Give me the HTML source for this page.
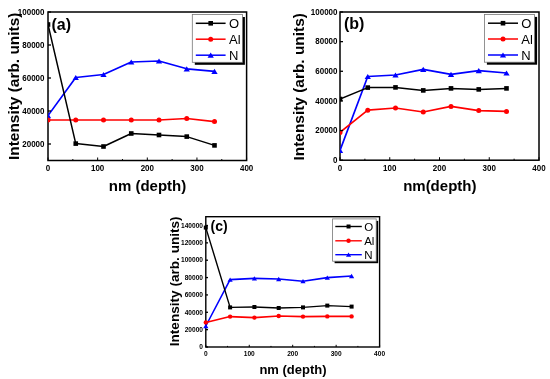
<!DOCTYPE html>
<html><head><meta charset="utf-8"><style>
html,body{margin:0;padding:0;background:#fff;width:550px;height:379px;overflow:hidden}
svg{display:block;will-change:transform}
text{font-family:"Liberation Sans", sans-serif;fill:#000}
</style></head><body>
<svg width="550" height="379" viewBox="0 0 550 379">
<rect x="48" y="12" width="198.6" height="148.5" fill="none" stroke="#000" stroke-width="1.5"/>
<clipPath id="clipa"><rect x="48" y="12" width="198.6" height="148.5"/></clipPath>
<g clip-path="url(#clipa)">
<polyline points="48,115.6 75.75,77.5 103.5,74.5 131.25,62 159,61 186.75,68.8 214.5,71.4" fill="none" stroke="#00f" stroke-width="1.6800000000000002" stroke-linejoin="round"/>
<path d="M44.85,118.18 L51.15,118.18 L48,113.02 Z" fill="#00f"/>
<path d="M72.6,80.08 L78.9,80.08 L75.75,74.92 Z" fill="#00f"/>
<path d="M100.35,77.08 L106.65,77.08 L103.5,71.92 Z" fill="#00f"/>
<path d="M128.1,64.58 L134.4,64.58 L131.25,59.42 Z" fill="#00f"/>
<path d="M155.85,63.58 L162.15,63.58 L159,58.42 Z" fill="#00f"/>
<path d="M183.6,71.38 L189.9,71.38 L186.75,66.22 Z" fill="#00f"/>
<path d="M211.35,73.98 L217.65,73.98 L214.5,68.82 Z" fill="#00f"/>
<polyline points="48,120 75.75,120 103.5,120 131.25,120 159,120 186.75,118.5 214.5,121.6" fill="none" stroke="#f00" stroke-width="1.6800000000000002" stroke-linejoin="round"/>
<circle cx="48" cy="120" r="2.5" fill="#f00"/>
<circle cx="75.75" cy="120" r="2.5" fill="#f00"/>
<circle cx="103.5" cy="120" r="2.5" fill="#f00"/>
<circle cx="131.25" cy="120" r="2.5" fill="#f00"/>
<circle cx="159" cy="120" r="2.5" fill="#f00"/>
<circle cx="186.75" cy="118.5" r="2.5" fill="#f00"/>
<circle cx="214.5" cy="121.6" r="2.5" fill="#f00"/>
<polyline points="48,24.5 75.75,143.6 103.5,146.5 131.25,133.5 159,135 186.75,136.6 214.5,145.4" fill="none" stroke="#000" stroke-width="1.5" stroke-linejoin="round"/>
<rect x="45.7" y="22.2" width="4.6" height="4.6" fill="#000"/>
<rect x="73.45" y="141.3" width="4.6" height="4.6" fill="#000"/>
<rect x="101.2" y="144.2" width="4.6" height="4.6" fill="#000"/>
<rect x="128.95" y="131.2" width="4.6" height="4.6" fill="#000"/>
<rect x="156.7" y="132.7" width="4.6" height="4.6" fill="#000"/>
<rect x="184.45" y="134.3" width="4.6" height="4.6" fill="#000"/>
<rect x="212.2" y="143.1" width="4.6" height="4.6" fill="#000"/>
</g>
<line x1="48" y1="12" x2="51" y2="12" stroke="#000" stroke-width="1.3"/>
<text transform="translate(44.5,14.72) scale(1,1.12)" text-anchor="end" font-size="8" font-weight="bold">100000</text>
<line x1="48" y1="45" x2="51" y2="45" stroke="#000" stroke-width="1.3"/>
<text transform="translate(44.5,47.72) scale(1,1.12)" text-anchor="end" font-size="8" font-weight="bold">80000</text>
<line x1="48" y1="78" x2="51" y2="78" stroke="#000" stroke-width="1.3"/>
<text transform="translate(44.5,80.72) scale(1,1.12)" text-anchor="end" font-size="8" font-weight="bold">60000</text>
<line x1="48" y1="111" x2="51" y2="111" stroke="#000" stroke-width="1.3"/>
<text transform="translate(44.5,113.72) scale(1,1.12)" text-anchor="end" font-size="8" font-weight="bold">40000</text>
<line x1="48" y1="144" x2="51" y2="144" stroke="#000" stroke-width="1.3"/>
<text transform="translate(44.5,146.72) scale(1,1.12)" text-anchor="end" font-size="8" font-weight="bold">20000</text>
<line x1="48" y1="160.5" x2="48" y2="157.5" stroke="#000" stroke-width="1"/>
<text transform="translate(48,170.5) scale(1,1.12)" text-anchor="middle" font-size="8" font-weight="bold">0</text>
<line x1="97.65" y1="160.5" x2="97.65" y2="157.5" stroke="#000" stroke-width="1"/>
<text transform="translate(97.65,170.5) scale(1,1.12)" text-anchor="middle" font-size="8" font-weight="bold">100</text>
<line x1="147.3" y1="160.5" x2="147.3" y2="157.5" stroke="#000" stroke-width="1"/>
<text transform="translate(147.3,170.5) scale(1,1.12)" text-anchor="middle" font-size="8" font-weight="bold">200</text>
<line x1="196.95" y1="160.5" x2="196.95" y2="157.5" stroke="#000" stroke-width="1"/>
<text transform="translate(196.95,170.5) scale(1,1.12)" text-anchor="middle" font-size="8" font-weight="bold">300</text>
<line x1="246.6" y1="160.5" x2="246.6" y2="157.5" stroke="#000" stroke-width="1"/>
<text transform="translate(246.6,170.5) scale(1,1.12)" text-anchor="middle" font-size="8" font-weight="bold">400</text>
<line x1="72.83" y1="160.5" x2="72.83" y2="159" stroke="#000" stroke-width="1"/>
<line x1="122.47" y1="160.5" x2="122.47" y2="159" stroke="#000" stroke-width="1"/>
<line x1="172.12" y1="160.5" x2="172.12" y2="159" stroke="#000" stroke-width="1"/>
<line x1="221.78" y1="160.5" x2="221.78" y2="159" stroke="#000" stroke-width="1"/>
<text x="51.5" y="30" font-size="16" font-weight="bold">(a)</text>
<text x="147.5" y="191" text-anchor="middle" font-size="15" font-weight="bold">nm (depth)</text>
<text transform="translate(18.6,86.3) rotate(-90)" text-anchor="middle" font-size="15.45" font-weight="bold">Intensity (arb. units)</text>
<rect x="194.8" y="17" width="50.1" height="47.8" fill="#000"/>
<rect x="192.3" y="14.5" width="50.1" height="47.8" fill="#fff" stroke="#777" stroke-width="0.8"/>
<line x1="195.8" y1="23.3" x2="225.6" y2="23.3" stroke="#000" stroke-width="1.5"/>
<rect x="208.4" y="21" width="4.6" height="4.6" fill="#000"/>
<text x="229" y="27.98" font-size="13">O</text>
<line x1="195.8" y1="39.2" x2="225.6" y2="39.2" stroke="#f00" stroke-width="1.5"/>
<circle cx="210.7" cy="39.2" r="2.5" fill="#f00"/>
<text x="229" y="43.88" font-size="13">Al</text>
<line x1="195.8" y1="55.2" x2="225.6" y2="55.2" stroke="#00f" stroke-width="1.5"/>
<path d="M207.55,57.78 L213.85,57.78 L210.7,52.62 Z" fill="#00f"/>
<text x="229" y="59.88" font-size="13">N</text>
<rect x="340" y="12" width="199" height="148.2" fill="none" stroke="#000" stroke-width="1.5"/>
<clipPath id="clipb"><rect x="340" y="12" width="199" height="148.2"/></clipPath>
<g clip-path="url(#clipb)">
<polyline points="340,150.4 367.75,76.5 395.5,75 423.25,69.4 451,74.4 478.75,70.6 506.5,73" fill="none" stroke="#00f" stroke-width="1.6800000000000002" stroke-linejoin="round"/>
<path d="M336.85,152.98 L343.15,152.98 L340,147.82 Z" fill="#00f"/>
<path d="M364.6,79.08 L370.9,79.08 L367.75,73.92 Z" fill="#00f"/>
<path d="M392.35,77.58 L398.65,77.58 L395.5,72.42 Z" fill="#00f"/>
<path d="M420.1,71.98 L426.4,71.98 L423.25,66.82 Z" fill="#00f"/>
<path d="M447.85,76.98 L454.15,76.98 L451,71.82 Z" fill="#00f"/>
<path d="M475.6,73.18 L481.9,73.18 L478.75,68.02 Z" fill="#00f"/>
<path d="M503.35,75.58 L509.65,75.58 L506.5,70.42 Z" fill="#00f"/>
<polyline points="340,132.4 367.75,110.2 395.5,108 423.25,112 451,106.4 478.75,110.6 506.5,111.4" fill="none" stroke="#f00" stroke-width="1.6800000000000002" stroke-linejoin="round"/>
<circle cx="340" cy="132.4" r="2.5" fill="#f00"/>
<circle cx="367.75" cy="110.2" r="2.5" fill="#f00"/>
<circle cx="395.5" cy="108" r="2.5" fill="#f00"/>
<circle cx="423.25" cy="112" r="2.5" fill="#f00"/>
<circle cx="451" cy="106.4" r="2.5" fill="#f00"/>
<circle cx="478.75" cy="110.6" r="2.5" fill="#f00"/>
<circle cx="506.5" cy="111.4" r="2.5" fill="#f00"/>
<polyline points="340,99 367.75,87.6 395.5,87.4 423.25,90.4 451,88.4 478.75,89.4 506.5,88.4" fill="none" stroke="#000" stroke-width="1.5" stroke-linejoin="round"/>
<rect x="337.7" y="96.7" width="4.6" height="4.6" fill="#000"/>
<rect x="365.45" y="85.3" width="4.6" height="4.6" fill="#000"/>
<rect x="393.2" y="85.1" width="4.6" height="4.6" fill="#000"/>
<rect x="420.95" y="88.1" width="4.6" height="4.6" fill="#000"/>
<rect x="448.7" y="86.1" width="4.6" height="4.6" fill="#000"/>
<rect x="476.45" y="87.1" width="4.6" height="4.6" fill="#000"/>
<rect x="504.2" y="86.1" width="4.6" height="4.6" fill="#000"/>
</g>
<line x1="340" y1="12" x2="343" y2="12" stroke="#000" stroke-width="1.3"/>
<text transform="translate(337.5,14.72) scale(1,1.12)" text-anchor="end" font-size="8" font-weight="bold">100000</text>
<line x1="340" y1="41.64" x2="343" y2="41.64" stroke="#000" stroke-width="1.3"/>
<text transform="translate(337.5,44.36) scale(1,1.12)" text-anchor="end" font-size="8" font-weight="bold">80000</text>
<line x1="340" y1="71.28" x2="343" y2="71.28" stroke="#000" stroke-width="1.3"/>
<text transform="translate(337.5,74) scale(1,1.12)" text-anchor="end" font-size="8" font-weight="bold">60000</text>
<line x1="340" y1="100.92" x2="343" y2="100.92" stroke="#000" stroke-width="1.3"/>
<text transform="translate(337.5,103.64) scale(1,1.12)" text-anchor="end" font-size="8" font-weight="bold">40000</text>
<line x1="340" y1="130.56" x2="343" y2="130.56" stroke="#000" stroke-width="1.3"/>
<text transform="translate(337.5,133.28) scale(1,1.12)" text-anchor="end" font-size="8" font-weight="bold">20000</text>
<line x1="340" y1="160.2" x2="343" y2="160.2" stroke="#000" stroke-width="1.3"/>
<text transform="translate(337.5,162.92) scale(1,1.12)" text-anchor="end" font-size="8" font-weight="bold">0</text>
<line x1="340" y1="160.2" x2="340" y2="157.2" stroke="#000" stroke-width="1"/>
<text transform="translate(340,170.5) scale(1,1.12)" text-anchor="middle" font-size="8" font-weight="bold">0</text>
<line x1="389.75" y1="160.2" x2="389.75" y2="157.2" stroke="#000" stroke-width="1"/>
<text transform="translate(389.75,170.5) scale(1,1.12)" text-anchor="middle" font-size="8" font-weight="bold">100</text>
<line x1="439.5" y1="160.2" x2="439.5" y2="157.2" stroke="#000" stroke-width="1"/>
<text transform="translate(439.5,170.5) scale(1,1.12)" text-anchor="middle" font-size="8" font-weight="bold">200</text>
<line x1="489.25" y1="160.2" x2="489.25" y2="157.2" stroke="#000" stroke-width="1"/>
<text transform="translate(489.25,170.5) scale(1,1.12)" text-anchor="middle" font-size="8" font-weight="bold">300</text>
<line x1="539" y1="160.2" x2="539" y2="157.2" stroke="#000" stroke-width="1"/>
<text transform="translate(539,170.5) scale(1,1.12)" text-anchor="middle" font-size="8" font-weight="bold">400</text>
<line x1="364.88" y1="160.2" x2="364.88" y2="158.7" stroke="#000" stroke-width="1"/>
<line x1="414.62" y1="160.2" x2="414.62" y2="158.7" stroke="#000" stroke-width="1"/>
<line x1="464.38" y1="160.2" x2="464.38" y2="158.7" stroke="#000" stroke-width="1"/>
<line x1="514.12" y1="160.2" x2="514.12" y2="158.7" stroke="#000" stroke-width="1"/>
<text x="344" y="29" font-size="16" font-weight="bold">(b)</text>
<text x="439.8" y="191" text-anchor="middle" font-size="15" font-weight="bold">nm(depth)</text>
<text transform="translate(303.6,86.8) rotate(-90)" text-anchor="middle" font-size="15.45" font-weight="bold">Intensity (arb. units)</text>
<rect x="486.9" y="16.9" width="50.2" height="47.8" fill="#000"/>
<rect x="484.4" y="14.4" width="50.2" height="47.8" fill="#fff" stroke="#777" stroke-width="0.8"/>
<line x1="488" y1="23.2" x2="518" y2="23.2" stroke="#000" stroke-width="1.5"/>
<rect x="500.7" y="20.9" width="4.6" height="4.6" fill="#000"/>
<text x="521.3" y="27.88" font-size="13">O</text>
<line x1="488" y1="39" x2="518" y2="39" stroke="#f00" stroke-width="1.5"/>
<circle cx="503" cy="39" r="2.5" fill="#f00"/>
<text x="521.3" y="43.68" font-size="13">Al</text>
<line x1="488" y1="55" x2="518" y2="55" stroke="#00f" stroke-width="1.5"/>
<path d="M499.85,57.58 L506.15,57.58 L503,52.42 Z" fill="#00f"/>
<text x="521.3" y="59.68" font-size="13">N</text>
<rect x="205.8" y="216.7" width="173.8" height="130.3" fill="none" stroke="#000" stroke-width="1.4"/>
<polyline points="205.8,326 230.1,279.6 254.4,278.4 278.7,279 303,281.2 327.3,277.6 351.6,276" fill="none" stroke="#00f" stroke-width="1.568" stroke-linejoin="round"/>
<path d="M203.2,328.13 L208.4,328.13 L205.8,323.87 Z" fill="#00f"/>
<path d="M227.5,281.73 L232.7,281.73 L230.1,277.47 Z" fill="#00f"/>
<path d="M251.8,280.53 L257,280.53 L254.4,276.27 Z" fill="#00f"/>
<path d="M276.1,281.13 L281.3,281.13 L278.7,276.87 Z" fill="#00f"/>
<path d="M300.4,283.33 L305.6,283.33 L303,279.07 Z" fill="#00f"/>
<path d="M324.7,279.73 L329.9,279.73 L327.3,275.47 Z" fill="#00f"/>
<path d="M349,278.13 L354.2,278.13 L351.6,273.87 Z" fill="#00f"/>
<polyline points="205.8,322.4 230.1,316.6 254.4,317.6 278.7,316 303,316.6 327.3,316.4 351.6,316.4" fill="none" stroke="#f00" stroke-width="1.568" stroke-linejoin="round"/>
<circle cx="205.8" cy="322.4" r="2.2" fill="#f00"/>
<circle cx="230.1" cy="316.6" r="2.2" fill="#f00"/>
<circle cx="254.4" cy="317.6" r="2.2" fill="#f00"/>
<circle cx="278.7" cy="316" r="2.2" fill="#f00"/>
<circle cx="303" cy="316.6" r="2.2" fill="#f00"/>
<circle cx="327.3" cy="316.4" r="2.2" fill="#f00"/>
<circle cx="351.6" cy="316.4" r="2.2" fill="#f00"/>
<polyline points="205.8,227.6 230.1,307.4 254.4,307 278.7,308 303,307.4 327.3,305.6 351.6,306.6" fill="none" stroke="#000" stroke-width="1.4" stroke-linejoin="round"/>
<rect x="203.8" y="225.6" width="4" height="4" fill="#000"/>
<rect x="228.1" y="305.4" width="4" height="4" fill="#000"/>
<rect x="252.4" y="305" width="4" height="4" fill="#000"/>
<rect x="276.7" y="306" width="4" height="4" fill="#000"/>
<rect x="301" y="305.4" width="4" height="4" fill="#000"/>
<rect x="325.3" y="303.6" width="4" height="4" fill="#000"/>
<rect x="349.6" y="304.6" width="4" height="4" fill="#000"/>
<line x1="205.8" y1="225.5" x2="208" y2="225.5" stroke="#000" stroke-width="1.3"/>
<text transform="translate(203,227.74) scale(1,1.12)" text-anchor="end" font-size="6.6" font-weight="bold">140000</text>
<line x1="205.8" y1="242.86" x2="208" y2="242.86" stroke="#000" stroke-width="1.3"/>
<text transform="translate(203,245.1) scale(1,1.12)" text-anchor="end" font-size="6.6" font-weight="bold">120000</text>
<line x1="205.8" y1="260.21" x2="208" y2="260.21" stroke="#000" stroke-width="1.3"/>
<text transform="translate(203,262.46) scale(1,1.12)" text-anchor="end" font-size="6.6" font-weight="bold">100000</text>
<line x1="205.8" y1="277.57" x2="208" y2="277.57" stroke="#000" stroke-width="1.3"/>
<text transform="translate(203,279.82) scale(1,1.12)" text-anchor="end" font-size="6.6" font-weight="bold">80000</text>
<line x1="205.8" y1="294.93" x2="208" y2="294.93" stroke="#000" stroke-width="1.3"/>
<text transform="translate(203,297.17) scale(1,1.12)" text-anchor="end" font-size="6.6" font-weight="bold">60000</text>
<line x1="205.8" y1="312.29" x2="208" y2="312.29" stroke="#000" stroke-width="1.3"/>
<text transform="translate(203,314.53) scale(1,1.12)" text-anchor="end" font-size="6.6" font-weight="bold">40000</text>
<line x1="205.8" y1="329.64" x2="208" y2="329.64" stroke="#000" stroke-width="1.3"/>
<text transform="translate(203,331.89) scale(1,1.12)" text-anchor="end" font-size="6.6" font-weight="bold">20000</text>
<line x1="205.8" y1="347" x2="208" y2="347" stroke="#000" stroke-width="1.3"/>
<text transform="translate(203,349.24) scale(1,1.12)" text-anchor="end" font-size="6.6" font-weight="bold">0</text>
<line x1="205.8" y1="347" x2="205.8" y2="344.8" stroke="#000" stroke-width="1"/>
<text transform="translate(205.8,356) scale(1,1.12)" text-anchor="middle" font-size="6.6" font-weight="bold">0</text>
<line x1="249.25" y1="347" x2="249.25" y2="344.8" stroke="#000" stroke-width="1"/>
<text transform="translate(249.25,356) scale(1,1.12)" text-anchor="middle" font-size="6.6" font-weight="bold">100</text>
<line x1="292.7" y1="347" x2="292.7" y2="344.8" stroke="#000" stroke-width="1"/>
<text transform="translate(292.7,356) scale(1,1.12)" text-anchor="middle" font-size="6.6" font-weight="bold">200</text>
<line x1="336.15" y1="347" x2="336.15" y2="344.8" stroke="#000" stroke-width="1"/>
<text transform="translate(336.15,356) scale(1,1.12)" text-anchor="middle" font-size="6.6" font-weight="bold">300</text>
<line x1="379.6" y1="347" x2="379.6" y2="344.8" stroke="#000" stroke-width="1"/>
<text transform="translate(379.6,356) scale(1,1.12)" text-anchor="middle" font-size="6.6" font-weight="bold">400</text>
<line x1="227.53" y1="347" x2="227.53" y2="345.9" stroke="#000" stroke-width="1"/>
<line x1="270.98" y1="347" x2="270.98" y2="345.9" stroke="#000" stroke-width="1"/>
<line x1="314.43" y1="347" x2="314.43" y2="345.9" stroke="#000" stroke-width="1"/>
<line x1="357.88" y1="347" x2="357.88" y2="345.9" stroke="#000" stroke-width="1"/>
<text x="210.5" y="231.3" font-size="14" font-weight="bold">(c)</text>
<text x="293" y="374" text-anchor="middle" font-size="13" font-weight="bold">nm (depth)</text>
<text transform="translate(178.7,281.3) rotate(-90)" text-anchor="middle" font-size="13.6" font-weight="bold">Intensity (arb. units)</text>
<rect x="334.6" y="220.9" width="43.6" height="42.3" fill="#000"/>
<rect x="332.6" y="218.9" width="43.6" height="42.3" fill="#fff" stroke="#777" stroke-width="0.8"/>
<line x1="335.3" y1="226.5" x2="361.8" y2="226.5" stroke="#000" stroke-width="1.4"/>
<rect x="346.55" y="224.5" width="4" height="4" fill="#000"/>
<text x="364.2" y="230.64" font-size="11.5">O</text>
<line x1="335.3" y1="240.8" x2="361.8" y2="240.8" stroke="#f00" stroke-width="1.4"/>
<circle cx="348.55" cy="240.8" r="2.2" fill="#f00"/>
<text x="364.2" y="244.94" font-size="11.5">Al</text>
<line x1="335.3" y1="254.7" x2="361.8" y2="254.7" stroke="#00f" stroke-width="1.4"/>
<path d="M345.95,256.83 L351.15,256.83 L348.55,252.57 Z" fill="#00f"/>
<text x="364.2" y="258.84" font-size="11.5">N</text>
</svg>
</body></html>
